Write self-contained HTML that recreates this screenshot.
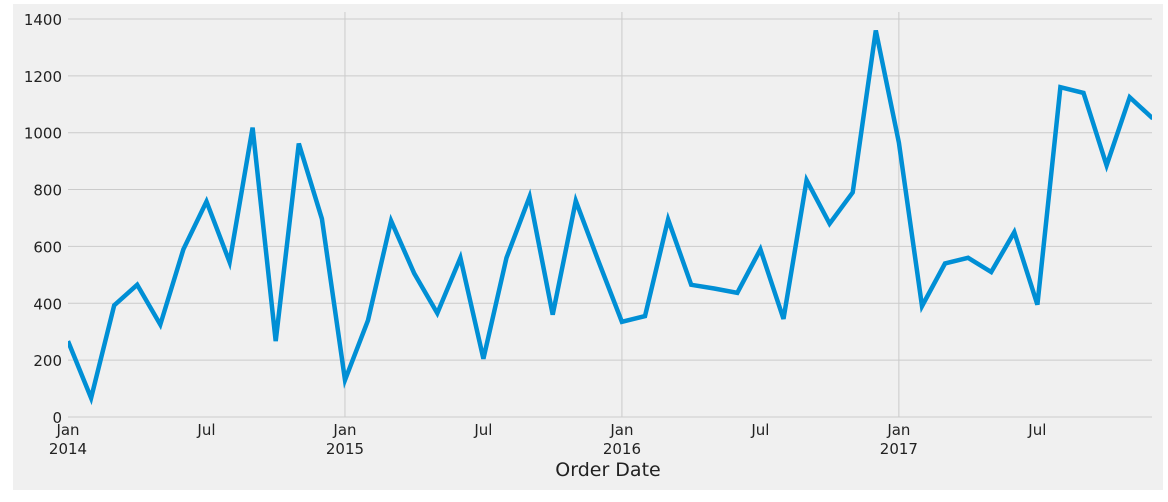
<!DOCTYPE html>
<html><head><meta charset="utf-8"><style>
body{margin:0;background:#fff;width:1168px;height:497px;overflow:hidden;font-family:"Liberation Sans","DejaVu Sans",sans-serif}
</style></head><body>
<svg width="1168" height="497" style="font-family:'DejaVu Sans','Liberation Sans',sans-serif">
<rect x="13" y="4" width="1150" height="486" fill="#f0f0f0"/>
<g id="grid"></g><g id="ticks"></g>
<defs><clipPath id="clip"><rect x="68" y="0" width="1084" height="497"/></clipPath></defs>
<path id="line" fill="none" stroke="#008fd5" stroke-width="4.5" stroke-linejoin="miter" clip-path="url(#clip)"/>
<text x="608" y="476" font-size="19" fill="#222" text-anchor="middle">Order Date</text>
</svg>
<script>
const values=[267,67,393,465,325,590,758,545,1018,267,962,697,130,340,690,505,365,560,205,560,775,360,760,545,335,355,695,465,452,437,590,345,833,680,790,1360,965,390,540,560,510,650,395,1160,1140,885,1125,1050];
const yTicks=[0,200,400,600,800,1000,1200,1400];
const xTickLabels=[[0,"Jan","2014"],[6,"Jul",""],[12,"Jan","2015"],[18,"Jul",""],[24,"Jan","2016"],[30,"Jul",""],[36,"Jan","2017"],[42,"Jul",""]];
const NS="http://www.w3.org/2000/svg";
const X=i=>68+i*23.08, Y=v=>417-v*0.2843;
const grid=document.getElementById('grid'),ticks=document.getElementById('ticks');
function mk(t,a,p){const e=document.createElementNS(NS,t);for(const k in a)e.setAttribute(k,a[k]);p.appendChild(e);return e;}
yTicks.forEach(v=>{
 const l=mk('line',{x1:68,x2:1152,y1:Y(v),y2:Y(v),stroke:'#cbcbcb','stroke-width':1},grid);
 
 
 const t=mk('text',{x:62,y:Y(v)+6,'font-size':15,fill:'#222','text-anchor':'end'},ticks);
 t.textContent=v;
 
 
});
xTickLabels.forEach(([i,a,b])=>{
 if(i%12===0&&i>0){const l=mk('line',{x1:X(i),x2:X(i),y1:12,y2:417,stroke:'#cbcbcb','stroke-width':1},grid);
 
 }
 const t=mk('text',{x:X(i),y:435,'font-size':15,fill:'#222','text-anchor':'middle'},ticks);
 t.textContent=a;
 
 
 if(b){const t2=mk('text',{x:X(i),y:454,'font-size':15,fill:'#222','text-anchor':'middle'},ticks);
 t2.textContent=b;
 
 }
});
document.getElementById('line').setAttribute('d',values.map((v,i)=>(i?'L':'M')+X(i).toFixed(1)+' '+Y(v).toFixed(1)).join(' '));
</script>
</body></html>
